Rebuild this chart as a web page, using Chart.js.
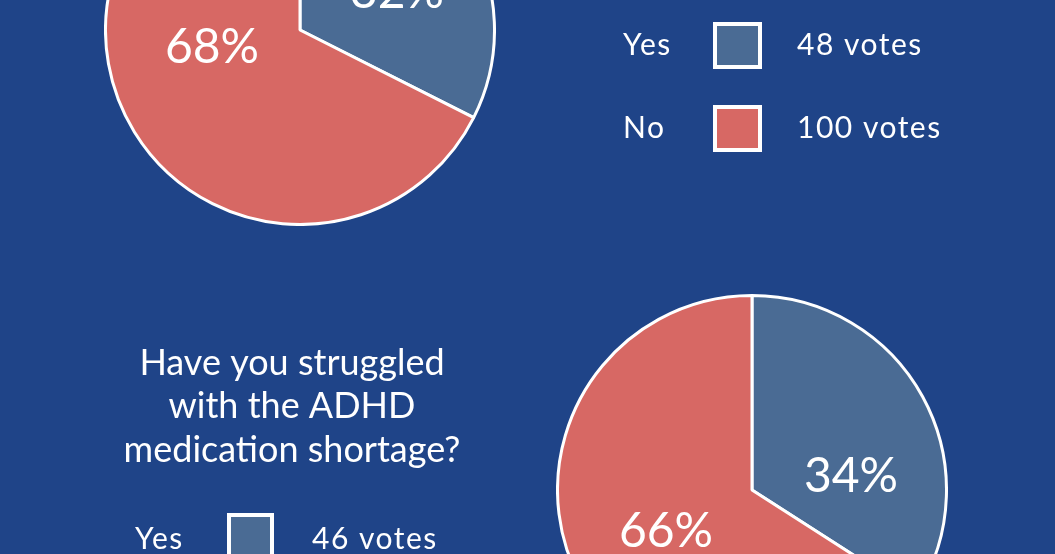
<!DOCTYPE html>
<html>
<head>
<meta charset="utf-8">
<script src="https://cdn.jsdelivr.net/npm/chart.js@4.4.1/dist/chart.umd.min.js"></script>
<style>
  html, body { margin: 0; padding: 0; width: 1055px; height: 554px; overflow: hidden; background: #1f4488; }
  canvas { position: absolute; }
  #bg { left: 0; top: 0; }
  #pieTop { left: 104px; top: -166px; }
  #pieBottom { left: 556px; top: 294px; }
</style>
</head>
<body>
<canvas id="bg" width="1055" height="554"></canvas>
<canvas id="pieTop" width="392" height="392"></canvas>
<canvas id="pieBottom" width="392" height="392"></canvas>
<script>
// data
let categorias = ['Yes', 'No'];
let votosArriba = [48, 100];
let votosAbajo = [46, 89];
let pctArriba = ['32%', '68%'];
let pctAbajo = ['34%', '66%'];
let pregunta = ['Have you struggled', 'with the ADHD', 'medication shortage?'];

let colores = ['#4a6b94', '#d76864'];
let fuente = 'Lato, "Noto Sans", sans-serif';

// fondo, pregunta y leyendas
let bg = document.getElementById('bg').getContext('2d');
bg.fillStyle = '#1f4488';
bg.fillRect(0, 0, 1055, 554);
bg.fillStyle = '#fff';
bg.textBaseline = 'alphabetic';

bg.font = '36px ' + fuente;
bg.textAlign = 'center';
let bases = [375, 418, 462];
for (let i = 0; i < pregunta.length; i++) {
    bg.fillText(pregunta[i], 292, bases[i]);
}

function cuadro(x, y, w, h, color) {
    bg.fillStyle = '#fff';
    bg.fillRect(x, y, w, h);
    bg.fillStyle = color;
    bg.fillRect(x + 4, y + 4, w - 8, h - 8);
}

bg.textAlign = 'left';
bg.font = '30px ' + fuente;
bg.letterSpacing = '1.5px';
// leyenda de arriba
let filas = [55, 138];
for (let i = 0; i < categorias.length; i++) {
    bg.fillStyle = '#fff';
    bg.fillText(categorias[i], 623, filas[i]);
    bg.fillText(votosArriba[i] + ' votes', 797, filas[i]);
    cuadro(713, filas[i] - 33, 49, 47, colores[i]);
}
// leyenda de abajo (solo se ve Yes)
bg.fillStyle = '#fff';
bg.fillText(categorias[0], 135, 549);
bg.fillText(votosAbajo[0] + ' votes', 312, 549);
cuadro(227, 513, 47, 47, colores[0]);

// etiquetas de porcentaje sobre cada pie
let etiquetas = {
    id: 'etiquetas',
    afterDraw(chart, args, opts) {
        let c = chart.ctx;
        let arc = chart.getDatasetMeta(0).data[0];
        c.save();
        c.fillStyle = '#fff';
        c.font = '48px ' + fuente;
        c.textAlign = 'center';
        c.textBaseline = 'alphabetic';
        for (let i = 0; i < opts.textos.length; i++) {
            c.fillText(opts.textos[i], arc.x + opts.pos[i][0], arc.y + opts.pos[i][1]);
        }
        c.restore();
    }
};

function hacerPie(id, votos, textos, pos) {
    return new Chart(document.getElementById(id), {
        type: 'pie',
        data: {
            labels: categorias,
            datasets: [{
                data: votos,
                backgroundColor: colores,
                borderColor: '#ffffff',
                borderWidth: 3
            }]
        },
        options: {
            responsive: false,
            animation: false,
            layout: { padding: 0 },
            plugins: {
                legend: { display: false },
                tooltip: { enabled: false },
                etiquetas: { textos: textos, pos: pos }
            }
        },
        plugins: [etiquetas]
    });
}

hacerPie('pieTop', votosArriba, pctArriba, [[97, -22], [-88, 33]]);
hacerPie('pieBottom', votosAbajo, pctAbajo, [[99, 2], [-86, 57]]);
</script>
</body>
</html>
